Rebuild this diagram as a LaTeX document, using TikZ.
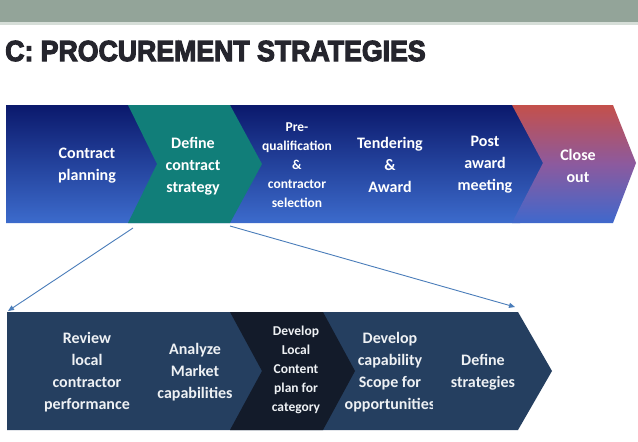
\documentclass[tikz,border=0pt]{standalone}
\usepackage{fontspec}
\setmainfont{Carlito}
\newfontfamily\titlefont[FakeBold=4]{Liberation Sans}
\usetikzlibrary{arrows.meta}
\definecolor{bandgrey}{HTML}{93A499}
\definecolor{bandline}{HTML}{D6DED8}
\definecolor{titlecol}{HTML}{25252D}
\definecolor{bluetop}{HTML}{0B196C}
\definecolor{bluebot}{HTML}{3C6BCC}
\definecolor{tealc}{HTML}{117E79}
\definecolor{cotop}{HTML}{C4504B}
\definecolor{comid}{HTML}{8C5A9E}
\definecolor{cobot}{HTML}{3F68CC}
\definecolor{lowband}{HTML}{253F60}
\definecolor{lowdark}{HTML}{131B2A}
\definecolor{arrowcol}{HTML}{4A7DBA}
\definecolor{lowtext}{HTML}{EEF1F4}
\pgfdeclareverticalshading{closeout}{100bp}{color(0bp)=(cobot); color(25bp)=(cobot); color(50bp)=(comid); color(75bp)=(cotop); color(100bp)=(cotop)}
\tikzset{
  lbl/.style={align=center, text=white, inner sep=0pt, font=\bfseries\fontsize{16}{22}\selectfont},
  lblsmall/.style={align=center, text=white, inner sep=0pt, font=\bfseries\fontsize{13.5}{19}\selectfont},
  lowlbl/.style={lbl, text=lowtext},
  lowsmall/.style={lblsmall, text=lowtext},
  link/.style={draw=arrowcol, line width=0.9pt, -{Triangle[length=6pt,width=5pt]}}
}
\begin{document}
\begin{tikzpicture}[x=1pt,y=-1pt]
\useasboundingbox (0,0) rectangle (638,442);
\fill[white] (0,0) rectangle (638,442);
\fill[bandgrey] (0,0) rectangle (638,22);
\fill[bandline] (0,22) rectangle (638,24.5);
\node[anchor=base west, inner sep=0pt, text=titlecol, font=\titlefont\bfseries\fontsize{29}{30}\selectfont] (title) at (5,61) {\scalebox{0.92}[1]{C: PROCUREMENT STRATEGIES}};
% top band
\shade[top color=bluetop, bottom color=bluebot] (6,105) -- (520,105) -- (550,163) -- (520,223) -- (6,223) -- cycle;
\fill[tealc] (128,105) -- (230,105) -- (262,164) -- (230,223) -- (128,223) -- (157,164) -- cycle;
\shade[shading=closeout] (512,105) -- (613,105) -- (636,163) -- (613,223) -- (512,223) -- (543,163) -- cycle;
\node[lbl] (plan) at (87,166) {Contract\\planning};
\node[lbl] (define) at (193,166) {Define\\contract\\strategy};
\node[lblsmall] (preq) at (297,165) {Pre-\\qualification\\\&\\contractor\\selection};
\node[lbl] (tender) at (390,165) {Tendering\\\&\\Award};
\node[lbl] (post) at (485,165) {Post\\award\\meeting};
\node[lbl] (close) at (578,166) {Close\\out};
% lower band
\fill[lowband] (7,312) -- (518,312) -- (552,371) -- (518,430) -- (7,430) -- cycle;
\fill[lowdark] (230,312) -- (323,312) -- (355,371) -- (323,430) -- (230,430) -- (262,371) -- cycle;
\node[lowlbl] (review) at (87,372) {Review\\local\\contractor\\performance};
\node[lowlbl] (analyze) at (195,372) {Analyze\\Market\\capabilities};
\node[lowsmall] (local) at (296,370) {Develop\\Local\\Content\\plan for\\category};
\begin{scope}
\clip (330,312) rectangle (432,430);
\node[lowlbl] (capab) at (390,372) {Develop\\capability\\Scope for\\opportunities};
\end{scope}
\node[lowlbl] (strat) at (483,372) {Define\\strategies};
% connectors
\coordinate (tl) at (133,228);
\coordinate (tr) at (230,226);
\coordinate (bl) at (8,311);
\coordinate (br) at (515,307);
\draw[link] (tl) -- (bl);
\draw[link] (tr) -- (br);
\end{tikzpicture}
\end{document}
